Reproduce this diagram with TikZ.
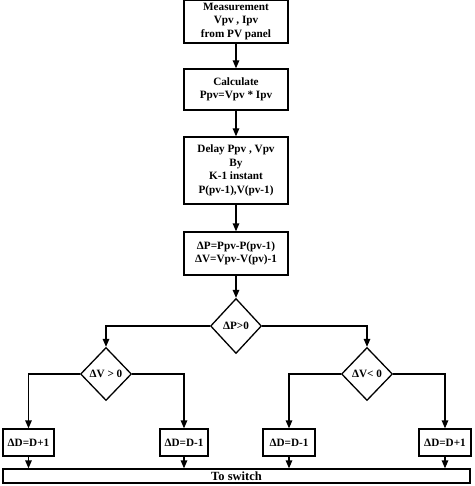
\documentclass[tikz,border=0pt]{standalone}
\usepackage{fontspec}
\setmainfont{Liberation Serif}
\usetikzlibrary{arrows.meta,shapes.geometric}
\begin{document}
\begin{tikzpicture}[x=1pt,y=-1pt,
  font=\fontsize{11.2}{13.6}\selectfont\bfseries,
  box/.style={draw, line width=1.3pt, align=center, inner sep=0pt},
  dec/.style={draw, diamond, line width=1.3pt, inner sep=0pt, aspect=1},
  arr/.style={line width=1.3pt, -{Triangle[length=8pt,width=6.5pt]}}]
\useasboundingbox (0,0) rectangle (474,486);
\node[box, minimum width=104pt, minimum height=43pt] (b1) at (236,21.5) {Measurement\\Vpv , Ipv\\from PV panel};
\node[box, minimum width=104pt, minimum height=41pt] (b2) at (236,89.5) {Calculate\\Ppv=Vpv * Ipv};
\node[box, minimum width=104pt, minimum height=67pt] (b3) at (236,170.5) {Delay Ppv , Vpv\\By\\K-1 instant\\P(pv-1),V(pv-1)};
\node[box, minimum width=104pt, minimum height=43pt] (b4) at (236,253.5) {ΔP=Ppv-P(pv-1)\\ΔV=Vpv-V(pv)-1};
\node[dec, minimum width=51pt, minimum height=55pt] (d1) at (236,326) {ΔP>0};
\node[dec, minimum width=51pt, minimum height=53pt] (d2) at (106,374) {ΔV > 0};
\node[dec, minimum width=51pt, minimum height=53pt] (d3) at (367,374) {ΔV< 0};
\node[box, minimum width=51pt, minimum height=27pt] (b5) at (28.5,442.5) {ΔD=D+1};
\node[box, minimum width=48pt, minimum height=27pt] (b6) at (184,442.5) {ΔD=D-1};
\node[box, minimum width=52pt, minimum height=27pt] (b7) at (289,442.5) {ΔD=D-1};
\node[box, minimum width=52pt, minimum height=27pt] (b8) at (445,442.5) {ΔD=D+1};
\node[box, minimum width=467pt, minimum height=14pt, font=\fontsize{12.5}{14}\selectfont\bfseries] (bar) at (236.5,476) {To switch};
\draw[arr] (b1) -- (b2);
\draw[arr] (b2) -- (b3);
\draw[arr] (b3) -- (b4);
\draw[arr] (b4) -- (d1);
\draw[arr] (d1.west) -| (d2.north);
\draw[arr] (d1.east) -| (d3.north);
\draw[arr] (d2.west) -| (b5.north);
\draw[arr] (d2.east) -| (b6.north);
\draw[arr] (d3.west) -| (b7.north);
\draw[arr] (d3.east) -| (b8.north);
\draw[arr] (b5.south) -- (b5.south |- bar.north);
\draw[arr] (b6.south) -- (b6.south |- bar.north);
\draw[arr] (b7.south) -- (b7.south |- bar.north);
\draw[arr] (b8.south) -- (b8.south |- bar.north);
\end{tikzpicture}
\end{document}
